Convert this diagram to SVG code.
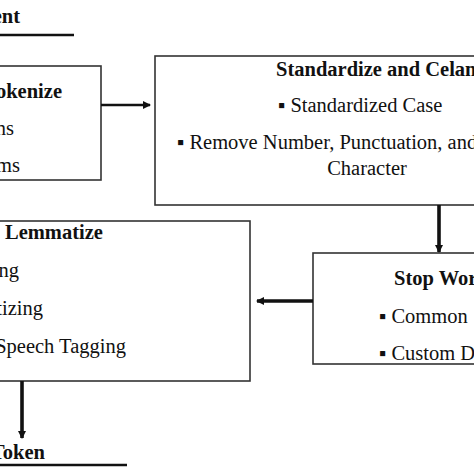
<svg xmlns="http://www.w3.org/2000/svg" width="474" height="474" viewBox="0 0 474 474">
<defs>
<style>
.box{fill:#fff;stroke:#333;stroke-width:1.6}
.t{font-family:"Liberation Serif","Times New Roman",serif;font-size:20.5px;fill:#111}
.b{font-weight:bold}
.ar{stroke:#111;fill:none}
.ul{stroke:#111;stroke-width:2.6}
</style>
<marker id="ah" viewBox="0 0 8 8" refX="7" refY="4" markerWidth="8" markerHeight="8" markerUnits="userSpaceOnUse" orient="auto">
<path d="M0,0 L8,4 L0,8 Z" fill="#111"/>
</marker>
</defs>
<rect width="474" height="474" fill="#fff"/>
<g id="header">
<text class="t b" x="20" y="23" text-anchor="end">ent</text>
<line class="ul" x1="0" y1="35" x2="74" y2="35"/>
</g>
<g id="tokenize">
<rect class="box" x="-20" y="66" width="121" height="114"/>
<text class="t b" x="62" y="98" text-anchor="end">okenize</text>
<text class="t" x="14" y="135" text-anchor="end">ns</text>
<text class="t" x="20" y="172" text-anchor="end">ms</text>
</g>
<g id="standardize">
<rect class="box" x="155" y="56" width="420" height="149"/>
<text class="t b" x="276" y="76">Standardize and Celan</text>
<text class="t" x="278" y="112">▪ Standardized Case</text>
<text class="t" x="177" y="149">▪ Remove Number, Punctuation, and</text>
<text class="t" x="367" y="175" text-anchor="middle">Character</text>
</g>
<g id="stopwords">
<rect class="box" x="313" y="253" width="200" height="111"/>
<text class="t b" x="394" y="285">Stop Wor</text>
<text class="t" x="379" y="323">▪ Common</text>
<text class="t" x="379" y="360">▪ Custom D</text>
</g>
<g id="lemmatize">
<rect class="box" x="-20" y="221" width="270" height="160"/>
<text class="t b" x="5" y="239">Lemmatize</text>
<text class="t" x="19" y="277" text-anchor="end">ng</text>
<text class="t" x="43" y="315" text-anchor="end">tizing</text>
<text class="t" x="126" y="353" text-anchor="end">Speech Tagging</text>
</g>
<g id="footer">
<text class="t b" x="45" y="459" text-anchor="end">Token</text>
<line class="ul" x1="0" y1="465" x2="127" y2="465"/>
</g>
<g id="connectors">
<line class="ar" x1="101" y1="105" x2="150" y2="105" stroke-width="2.4" marker-end="url(#ah)"/>
<line class="ar" x1="439" y1="205" x2="439" y2="252" stroke-width="3.6" marker-end="url(#ah)"/>
<line class="ar" x1="313" y1="301" x2="257" y2="301" stroke-width="3.6" marker-end="url(#ah)"/>
<line class="ar" x1="22" y1="381" x2="22" y2="438" stroke-width="3.6" marker-end="url(#ah)"/>
</g>
</svg>
